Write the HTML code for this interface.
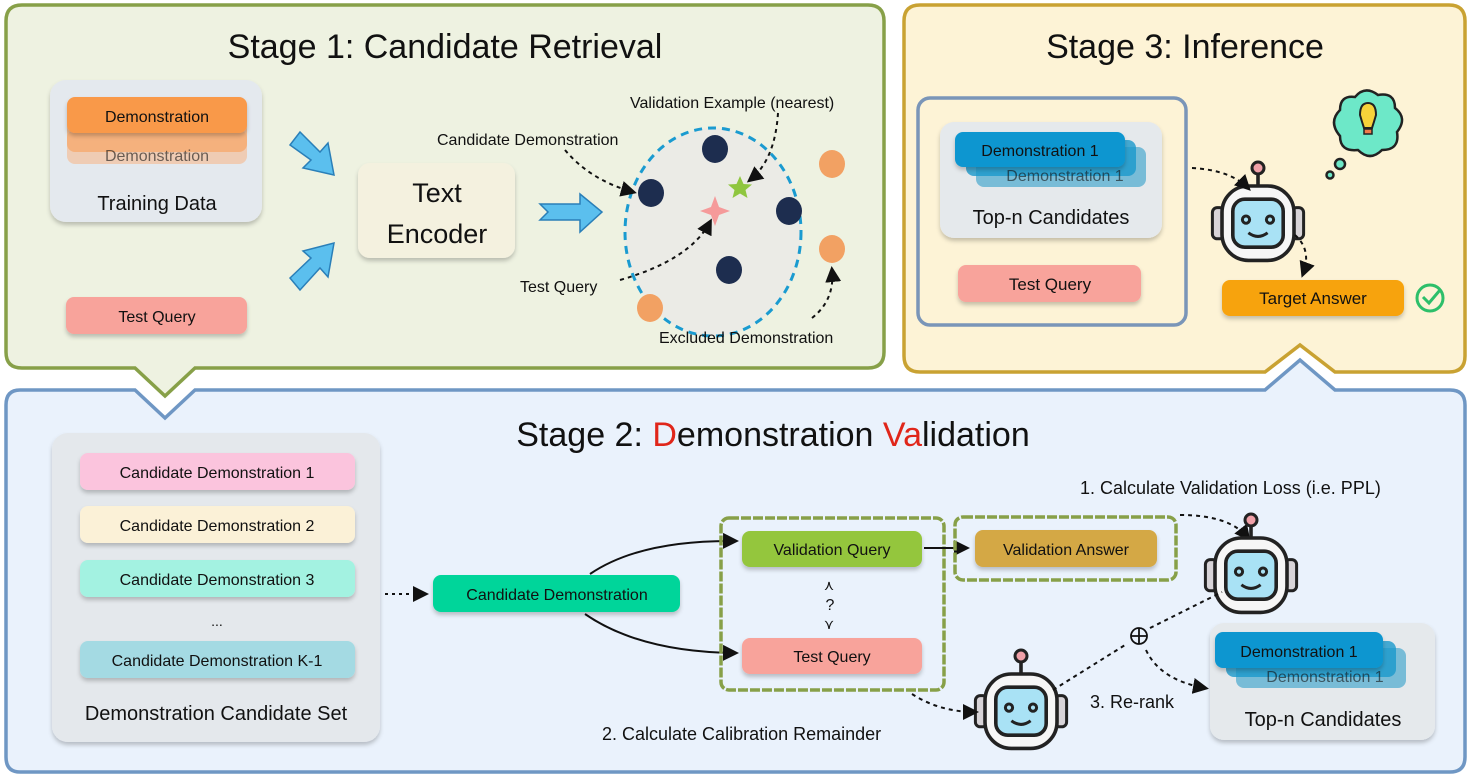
<!DOCTYPE html>
<html><head><meta charset="utf-8"><style>
html,body{margin:0;padding:0;background:#fff;}
svg{display:block;}
text{font-family:"Liberation Sans",sans-serif;fill:#111;}
</style></head><body>
<svg width="1471" height="779" viewBox="0 0 1471 779" xmlns="http://www.w3.org/2000/svg">
<defs>
<marker id="ah" markerWidth="8" markerHeight="8" refX="6" refY="4" orient="auto"><path d="M0,0 L8,4 L0,8 z" fill="#111"/></marker>
<filter id="sh" x="-10%" y="-10%" width="120%" height="140%"><feDropShadow dx="0" dy="3" stdDeviation="2" flood-color="#000" flood-opacity="0.22"/></filter>
<g id="robot">
<line x1="0" y1="-42" x2="0" y2="-30" stroke="#222" stroke-width="3"/>
<circle cx="0" cy="-45" r="5" fill="#f0a0a8" stroke="#222" stroke-width="2.5"/>
<rect x="-38" y="-12" width="10" height="26" rx="4" fill="#d8d4d8" stroke="#222" stroke-width="2.5"/>
<rect x="28" y="-12" width="10" height="26" rx="4" fill="#d8d4d8" stroke="#222" stroke-width="2.5"/>
<rect x="-30" y="-30" width="60" height="62" rx="22" fill="#f6f6f6" stroke="#222" stroke-width="3"/>
<rect x="-21" y="-19" width="42" height="40" rx="10" fill="#a9e2f5" stroke="#222" stroke-width="3"/>
<circle cx="-10" cy="-2" r="3" fill="none" stroke="#222" stroke-width="2.5"/>
<circle cx="10" cy="-2" r="3" fill="none" stroke="#222" stroke-width="2.5"/>
<path d="M-8,9 Q0,15 8,9" fill="none" stroke="#222" stroke-width="2.5"/>
</g>
</defs>

<path d="M20,390 L135,390 L165,418 L195,390 L1265,390 L1300,360 L1335,390 L1450,390 Q1465,390 1465,405 L1465,757 Q1465,772 1450,772 L20,772 Q6,772 6,757 L6,405 Q6,390 20,390 z" fill="#eaf2fc" stroke="#6f97c4" stroke-width="3.5"/>
<path d="M22,5 L868,5 Q884,5 884,21 L884,352 Q884,368 868,368 L195,368 L165,396 L135,368 L22,368 Q6,368 6,352 L6,21 Q6,5 22,5 z" fill="#eef2e1" stroke="#87a048" stroke-width="3.5"/>
<path d="M920,5 L1449,5 Q1465,5 1465,21 L1465,356 Q1465,372 1449,372 L1335,372 L1300,345 L1265,372 L920,372 Q904,372 904,356 L904,21 Q904,5 920,5 z" fill="#fdf3d6" stroke="#c9a232" stroke-width="3.5"/>

<text x="445" y="58" font-size="34" text-anchor="middle">Stage 1: Candidate Retrieval</text>
<rect x="50" y="80" width="212" height="142" rx="16" fill="#e4e9ee" filter="url(#sh)"/>
<rect x="67" y="130" width="180" height="34" rx="8" fill="#f9b07a" opacity="0.5"/>
<rect x="67" y="118" width="180" height="34" rx="8" fill="#f8a565" opacity="0.7"/>
<text x="157" y="161" font-size="16" text-anchor="middle" fill="#b08060" opacity="0.6">Demonstration</text>
<rect x="67" y="97" width="180" height="36" rx="8" fill="#f9994a" filter="url(#sh)"/>
<text x="157" y="122" font-size="16" text-anchor="middle">Demonstration</text>
<text x="157" y="210" font-size="20" text-anchor="middle">Training Data</text>
<rect x="66" y="297" width="181" height="37" rx="8" fill="#f8a39b" filter="url(#sh)"/>
<text x="157" y="322" font-size="16" text-anchor="middle">Test Query</text>

<g fill="#5bbfee" stroke="#2a7fb8" stroke-width="1.5">
<path d="M290,145 L300,132 L320,152 L328,143 L334,175 L303,168 L311,160 z"/>
<path d="M290,278 L300,290 L320,268 L328,277 L334,243 L303,251 L311,258 z"/>
<path d="M540,204 L580,204 L580,194 L602,212 L580,232 L580,220 L540,220 L548,212 z"/>
</g>
<rect x="358" y="163" width="157" height="95" rx="12" fill="#f4f1df" filter="url(#sh)"/>
<text x="437" y="202" font-size="27" text-anchor="middle">Text</text>
<text x="437" y="243" font-size="27" text-anchor="middle">Encoder</text>

<ellipse cx="713" cy="232" rx="88" ry="104" fill="#ebebe6" stroke="#1a9bd0" stroke-width="3" stroke-dasharray="8,6"/>
<g fill="#1d2d4f">
<ellipse cx="715" cy="149" rx="13" ry="14"/><ellipse cx="651" cy="193" rx="13" ry="14"/>
<ellipse cx="789" cy="211" rx="13" ry="14"/><ellipse cx="729" cy="270" rx="13" ry="14"/>
</g>
<g fill="#f2a163">
<ellipse cx="832" cy="164" rx="13" ry="14"/><ellipse cx="832" cy="249" rx="13" ry="14"/><ellipse cx="650" cy="308" rx="13" ry="14"/>
</g>
<path d="M740,176 L743.5,184 L752,184.5 L745.5,190 L747.5,198 L740,193.5 L732.5,198 L734.5,190 L728,184.5 L736.5,184 z" fill="#8fc63f"/>
<path d="M715,196 L719,207 L730,211 L719,215 L715,226 L711,215 L700,211 L711,207 z" fill="#f59a9a"/>
<g fill="none" stroke="#111" stroke-width="2" stroke-dasharray="4,4">
<path d="M565,150 Q590,180 633,192" marker-end="url(#ah)"/>
<path d="M778,113 Q775,160 750,180" marker-end="url(#ah)"/>
<path d="M620,280 Q690,260 710,222" marker-end="url(#ah)"/>
<path d="M812,318 Q835,300 832,270" marker-end="url(#ah)"/>
</g>
<text x="437" y="145" font-size="16">Candidate Demonstration</text>
<text x="630" y="108" font-size="16">Validation Example (nearest)</text>
<text x="520" y="292" font-size="16">Test Query</text>
<text x="659" y="343" font-size="16">Excluded Demonstration</text>

<text x="1185" y="58" font-size="34" text-anchor="middle">Stage 3: Inference</text>
<rect x="918" y="98" width="268" height="227" rx="12" fill="none" stroke="#7a95b8" stroke-width="3.5"/>
<rect x="940" y="122" width="222" height="116" rx="14" fill="#e5e9ec" filter="url(#sh)"/>
<rect x="976" y="147" width="170" height="40" rx="8" fill="#4aa8cf" opacity="0.7"/>
<rect x="966" y="140" width="170" height="36" rx="8" fill="#1a99cc" opacity="0.8"/>
<text x="1065" y="181" font-size="16" text-anchor="middle" fill="#236a8a" opacity="0.6">Demonstration 1</text>
<rect x="955" y="132" width="170" height="35" rx="8" fill="#0b96d0" filter="url(#sh)"/>
<text x="1040" y="156" font-size="16" text-anchor="middle">Demonstration 1</text>
<text x="1051" y="224" font-size="20" text-anchor="middle">Top-n Candidates</text>
<rect x="958" y="265" width="183" height="37" rx="8" fill="#f8a39b" filter="url(#sh)"/>
<text x="1050" y="290" font-size="17" text-anchor="middle">Test Query</text>
<use href="#robot" transform="translate(1258,222) scale(1.2)"/>
<path d="M1192,168 Q1230,170 1248,188" fill="none" stroke="#111" stroke-width="2" stroke-dasharray="4,4" marker-end="url(#ah)"/>
<path d="M1295,235 Q1312,250 1303,274" fill="none" stroke="#111" stroke-width="2" stroke-dasharray="4,4" marker-end="url(#ah)"/>
<g stroke="#222" stroke-width="2.5" fill="#6de8c8">
<path d="M1340,110 Q1340,95 1355,97 Q1365,85 1378,95 Q1395,92 1395,108 Q1408,118 1397,132 Q1400,150 1382,150 Q1370,162 1358,150 Q1340,152 1340,136 Q1328,122 1340,110 z"/>
<circle cx="1340" cy="164" r="5"/><circle cx="1330" cy="175" r="3.5"/>
</g>
<path d="M1360,115 Q1360,103 1368,103 Q1376,103 1376,115 Q1374,122 1372,128 L1364,128 Q1362,122 1360,115 z" fill="#f7d23a" stroke="#222" stroke-width="2"/>
<rect x="1364" y="129" width="8" height="5" fill="#f27a4a" stroke="#222" stroke-width="1.5"/>
<rect x="1222" y="280" width="182" height="36" rx="8" fill="#f7a30a" filter="url(#sh)"/>
<text x="1313" y="304" font-size="17" text-anchor="middle">Target Answer</text>
<circle cx="1430" cy="298" r="13" fill="none" stroke="#2dbf6a" stroke-width="3"/>
<path d="M1423,297 L1429,303 L1440,290" fill="none" stroke="#2dbf6a" stroke-width="3"/>

<text x="773" y="446" font-size="34" text-anchor="middle">Stage 2: <tspan fill="#e0261a">D</tspan>emonstration <tspan fill="#e0261a">Va</tspan>lidation</text>
<rect x="52" y="433" width="328" height="309" rx="16" fill="#e4e8ec" filter="url(#sh)"/>
<rect x="80" y="453" width="275" height="37" rx="8" fill="#fbc4dd" filter="url(#sh)"/>
<text x="217" y="478" font-size="16" text-anchor="middle">Candidate Demonstration 1</text>
<rect x="80" y="506" width="275" height="37" rx="8" fill="#fbf1d7" filter="url(#sh)"/>
<text x="217" y="531" font-size="16" text-anchor="middle">Candidate Demonstration 2</text>
<rect x="80" y="560" width="275" height="37" rx="8" fill="#a3f2e1" filter="url(#sh)"/>
<text x="217" y="585" font-size="16" text-anchor="middle">Candidate Demonstration 3</text>
<text x="217" y="626" font-size="14" text-anchor="middle">...</text>
<rect x="80" y="641" width="275" height="37" rx="8" fill="#a4dae3" filter="url(#sh)"/>
<text x="217" y="666" font-size="16" text-anchor="middle">Candidate Demonstration K-1</text>
<text x="216" y="720" font-size="20" text-anchor="middle">Demonstration Candidate Set</text>
<path d="M385,594 L425,594" stroke="#111" stroke-width="2" stroke-dasharray="3,4" marker-end="url(#ah)"/>
<rect x="433" y="575" width="247" height="37" rx="8" fill="#00d59a" filter="url(#sh)"/>
<text x="557" y="600" font-size="16" text-anchor="middle">Candidate Demonstration</text>
<path d="M590,574 Q640,540 735,541" fill="none" stroke="#111" stroke-width="2" marker-end="url(#ah)"/>
<path d="M585,614 Q640,652 735,653" fill="none" stroke="#111" stroke-width="2" marker-end="url(#ah)"/>
<rect x="721" y="518" width="223" height="172" rx="8" fill="none" stroke="#87a048" stroke-width="3.5" stroke-dasharray="10,2"/>
<rect x="742" y="531" width="180" height="36" rx="8" fill="#94c63e" filter="url(#sh)"/>
<text x="832" y="555" font-size="16" text-anchor="middle">Validation Query</text>
<rect x="742" y="638" width="180" height="36" rx="8" fill="#f8a39b" filter="url(#sh)"/>
<text x="832" y="662" font-size="16" text-anchor="middle">Test Query</text>
<text x="829" y="590" font-size="14" text-anchor="middle">⋏</text>
<text x="830" y="610" font-size="16" text-anchor="middle">?</text>
<text x="829" y="629" font-size="14" text-anchor="middle">⋎</text>
<path d="M924,548 L966,548" stroke="#111" stroke-width="2" marker-end="url(#ah)"/>
<rect x="955" y="517" width="221" height="63" rx="8" fill="none" stroke="#87a048" stroke-width="3.5" stroke-dasharray="10,2"/>
<rect x="975" y="530" width="182" height="37" rx="8" fill="#d4a844" filter="url(#sh)"/>
<text x="1066" y="555" font-size="16" text-anchor="middle">Validation Answer</text>
<text x="1080" y="494" font-size="18">1. Calculate Validation Loss (i.e. PPL)</text>
<path d="M1180,515 Q1230,515 1248,538" fill="none" stroke="#111" stroke-width="2" stroke-dasharray="4,4" marker-end="url(#ah)"/>
<use href="#robot" transform="translate(1251,574) scale(1.2)"/>
<use href="#robot" transform="translate(1021,710) scale(1.2)"/>
<path d="M912,694 Q940,712 975,712" fill="none" stroke="#111" stroke-width="2" stroke-dasharray="4,4" marker-end="url(#ah)"/>
<path d="M1053,690 L1125,645" stroke="#111" stroke-width="2" stroke-dasharray="4,4"/>
<path d="M1150,628 L1222,592" stroke="#111" stroke-width="2" stroke-dasharray="4,4"/>
<circle cx="1139" cy="636" r="8" fill="none" stroke="#111" stroke-width="1.8"/>
<path d="M1131,636 L1147,636 M1139,628 L1139,644" stroke="#111" stroke-width="1.8"/>
<path d="M1146,650 Q1160,680 1205,688" fill="none" stroke="#111" stroke-width="2" stroke-dasharray="4,4" marker-end="url(#ah)"/>
<text x="1090" y="708" font-size="18">3. Re-rank</text>
<text x="602" y="740" font-size="18">2. Calculate Calibration Remainder</text>
<rect x="1210" y="623" width="225" height="117" rx="14" fill="#e5e9ec" filter="url(#sh)"/>
<rect x="1236" y="648" width="170" height="40" rx="8" fill="#4aa8cf" opacity="0.7"/>
<rect x="1226" y="641" width="170" height="36" rx="8" fill="#1a99cc" opacity="0.8"/>
<text x="1325" y="682" font-size="16" text-anchor="middle" fill="#236a8a" opacity="0.6">Demonstration 1</text>
<rect x="1215" y="632" width="168" height="36" rx="8" fill="#0b96d0" filter="url(#sh)"/>
<text x="1299" y="657" font-size="16" text-anchor="middle">Demonstration 1</text>
<text x="1323" y="726" font-size="20" text-anchor="middle">Top-n Candidates</text>
</svg>
</body></html>
